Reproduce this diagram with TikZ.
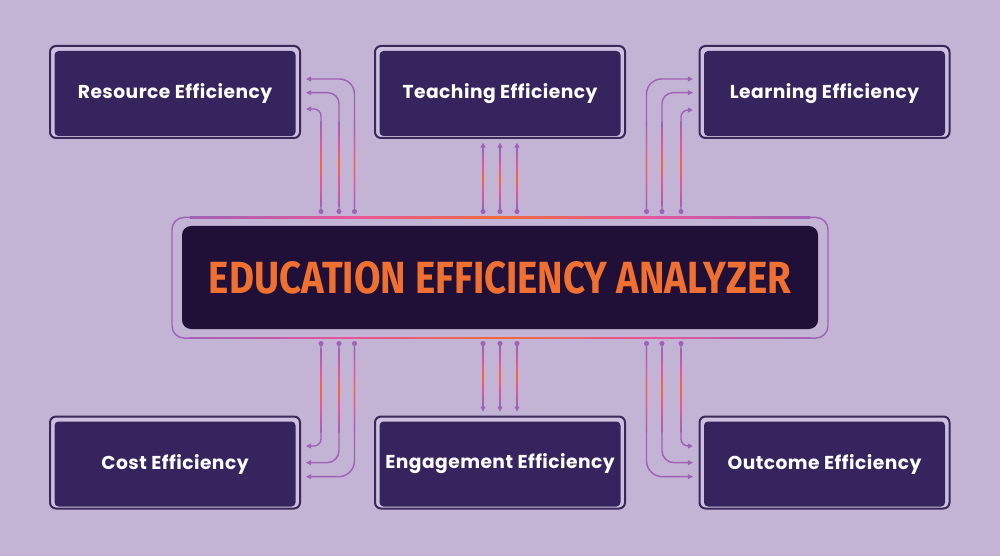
\documentclass[tikz,border=0pt]{standalone}
\usepackage{fontspec}
\setmainfont{Poppins}
\newfontfamily\titlefont{Fira Sans}
\usetikzlibrary{arrows.meta}
\definecolor{bg}{HTML}{C3B4D6}
\definecolor{gapc}{HTML}{CDC0DE}
\definecolor{framec}{HTML}{392858}
\definecolor{boxc}{HTML}{36245E}
\definecolor{centc}{HTML}{200F36}
\definecolor{orangec}{HTML}{F07032}
\definecolor{cpurple}{HTML}{A062B6}
\definecolor{cpink}{HTML}{E8559A}
\definecolor{corange}{HTML}{F06A3A}
\pgfdeclareverticalshading{vgrad}{100bp}{color(0bp)=(cpurple); color(25bp)=(cpurple); color(40bp)=(cpink); color(50bp)=(corange); color(60bp)=(cpink); color(75bp)=(cpurple); color(100bp)=(cpurple)}
\pgfdeclarehorizontalshading{hgrad}{100bp}{color(0bp)=(cpurple); color(25bp)=(cpurple); color(38bp)=(cpink); color(50bp)=(corange); color(62bp)=(cpink); color(75bp)=(cpurple); color(100bp)=(cpurple)}
\begin{document}
\begin{tikzpicture}[x=0.75pt,y=-0.75pt,
 frame/.style={draw=framec, line width=1.5pt, fill=gapc, rounded corners=4.5pt, minimum width=187.5pt, minimum height=69pt, inner sep=0pt},
 card/.style={fill=boxc, rounded corners=3pt, minimum width=180.75pt, minimum height=63.75pt, inner sep=0pt, text=white, font=\bfseries\fontsize{14}{16}\selectfont\addfontfeature{LetterSpace=2.5}},
 conn/.style={draw=cpurple, line width=1.1pt, -{Triangle[length=3.8pt,width=3.6pt]}},
 dot/.style={circle, fill=cpurple, inner sep=0pt, minimum size=3.6pt},
]
\fill[bg] (0,0) rectangle (1000,556);
\useasboundingbox (0,0) rectangle (1000,556);

% boxes
\node[frame] (resF) at (175,92) {};
\node[card] (res) at (175,93.5) {Resource Efficiency};
\node[frame] (teaF) at (500,92) {};
\node[card] (tea) at (500,93.5) {Teaching Efficiency};
\node[frame] (leaF) at (824.5,92) {};
\node[card] (lea) at (824.5,93.5) {Learning Efficiency};
\node[frame] (cosF) at (175,462.5) {};
\node[card] (cos) at (175,464) {Cost Efficiency};
\node[frame] (engF) at (500,462.5) {};
\node[card] (eng) at (500,464) {Engagement Efficiency};
\node[frame] (outF) at (824.5,462.5) {};
\node[card] (out) at (824.5,464) {Outcome Efficiency};

% central
\node[draw=cpurple, line width=1.1pt, rounded corners=9pt, minimum width=492pt, minimum height=90.4pt, inner sep=0pt] (mainF) at (500,277.75) {};
\shade[shading=hgrad] (190,216.85) rectangle (810,218.15);
\shade[shading=hgrad] (190,337.35) rectangle (810,338.65);
\node[fill=centc, rounded corners=6.75pt, minimum width=477pt, minimum height=77.25pt, inner sep=0pt, text=orangec] (main) at (500,277.5) {\resizebox{436.5pt}{24pt}{\titlefont\bfseries EDUCATION EFFICIENCY ANALYZER}};

% dot nodes
\foreach \n/\x in {a/321,b/339,c/354.5,d/483,e/500,f/517,g/646.5,h/662,i/681}{
  \node[dot] (t\n) at (\x,211.5) {};
  \node[dot] (b\n) at (\x,343.5) {};
}
% arrow targets
\coordinate (ra1) at (306,109);
\coordinate (ra2) at (306,92.7);
\coordinate (ra3) at (306,79);
\coordinate (ta1) at (483,142.5);
\coordinate (ta2) at (500,142.5);
\coordinate (ta3) at (517,142.5);
\coordinate (la1) at (693,79);
\coordinate (la2) at (693,92.7);
\coordinate (la3) at (693,110);
\coordinate (ca1) at (306,446);
\coordinate (ca2) at (306,462.7);
\coordinate (ca3) at (306,476.7);
\coordinate (ea1) at (483,411.7);
\coordinate (ea2) at (500,411.7);
\coordinate (ea3) at (517,411.7);
\coordinate (oa1) at (693,476.7);
\coordinate (oa2) at (693,462.7);
\coordinate (oa3) at (693,446);

% connectors top
\draw[conn, rounded corners=5.25pt] (ta.center) |- (ra1);
\draw[conn, rounded corners=8.25pt] (tb.center) |- (ra2);
\draw[conn, rounded corners=11.25pt] (tc.center) |- (ra3);
\draw[conn] (td.center) -- (ta1);
\draw[conn] (te.center) -- (ta2);
\draw[conn] (tf.center) -- (ta3);
\draw[conn, rounded corners=11.25pt] (tg.center) |- (la1);
\draw[conn, rounded corners=8.25pt] (th.center) |- (la2);
\draw[conn, rounded corners=5.25pt] (ti.center) |- (la3);
% connectors bottom
\draw[conn, rounded corners=5.25pt] (ba.center) |- (ca1);
\draw[conn, rounded corners=9pt] (bb.center) |- (ca2);
\draw[conn, rounded corners=12pt] (bc.center) |- (ca3);
\draw[conn] (bd.center) -- (ea1);
\draw[conn] (be.center) -- (ea2);
\draw[conn] (bf.center) -- (ea3);
\draw[conn, rounded corners=12pt] (bg.center) |- (oa1);
\draw[conn, rounded corners=9pt] (bh.center) |- (oa2);
\draw[conn, rounded corners=5.25pt] (bi.center) |- (oa3);

% gradient overlays on straight parts
\foreach \x in {321,339,354.5,646.5,662,681}{
  \shade[shading=vgrad] (\x-0.73,122) rectangle (\x+0.73,207);
  \shade[shading=vgrad] (\x-0.73,348) rectangle (\x+0.73,432);
}
\foreach \x in {483,500,517}{
  \shade[shading=vgrad] (\x-0.73,150) rectangle (\x+0.73,207);
  \shade[shading=vgrad] (\x-0.73,348) rectangle (\x+0.73,404);
}
% redraw dots on top
\foreach \n/\x in {a/321,b/339,c/354.5,d/483,e/500,f/517,g/646.5,h/662,i/681}{
  \fill[cpurple] (t\n) circle (1.8pt);
  \fill[cpurple] (b\n) circle (1.8pt);
}
\end{tikzpicture}
\end{document}
